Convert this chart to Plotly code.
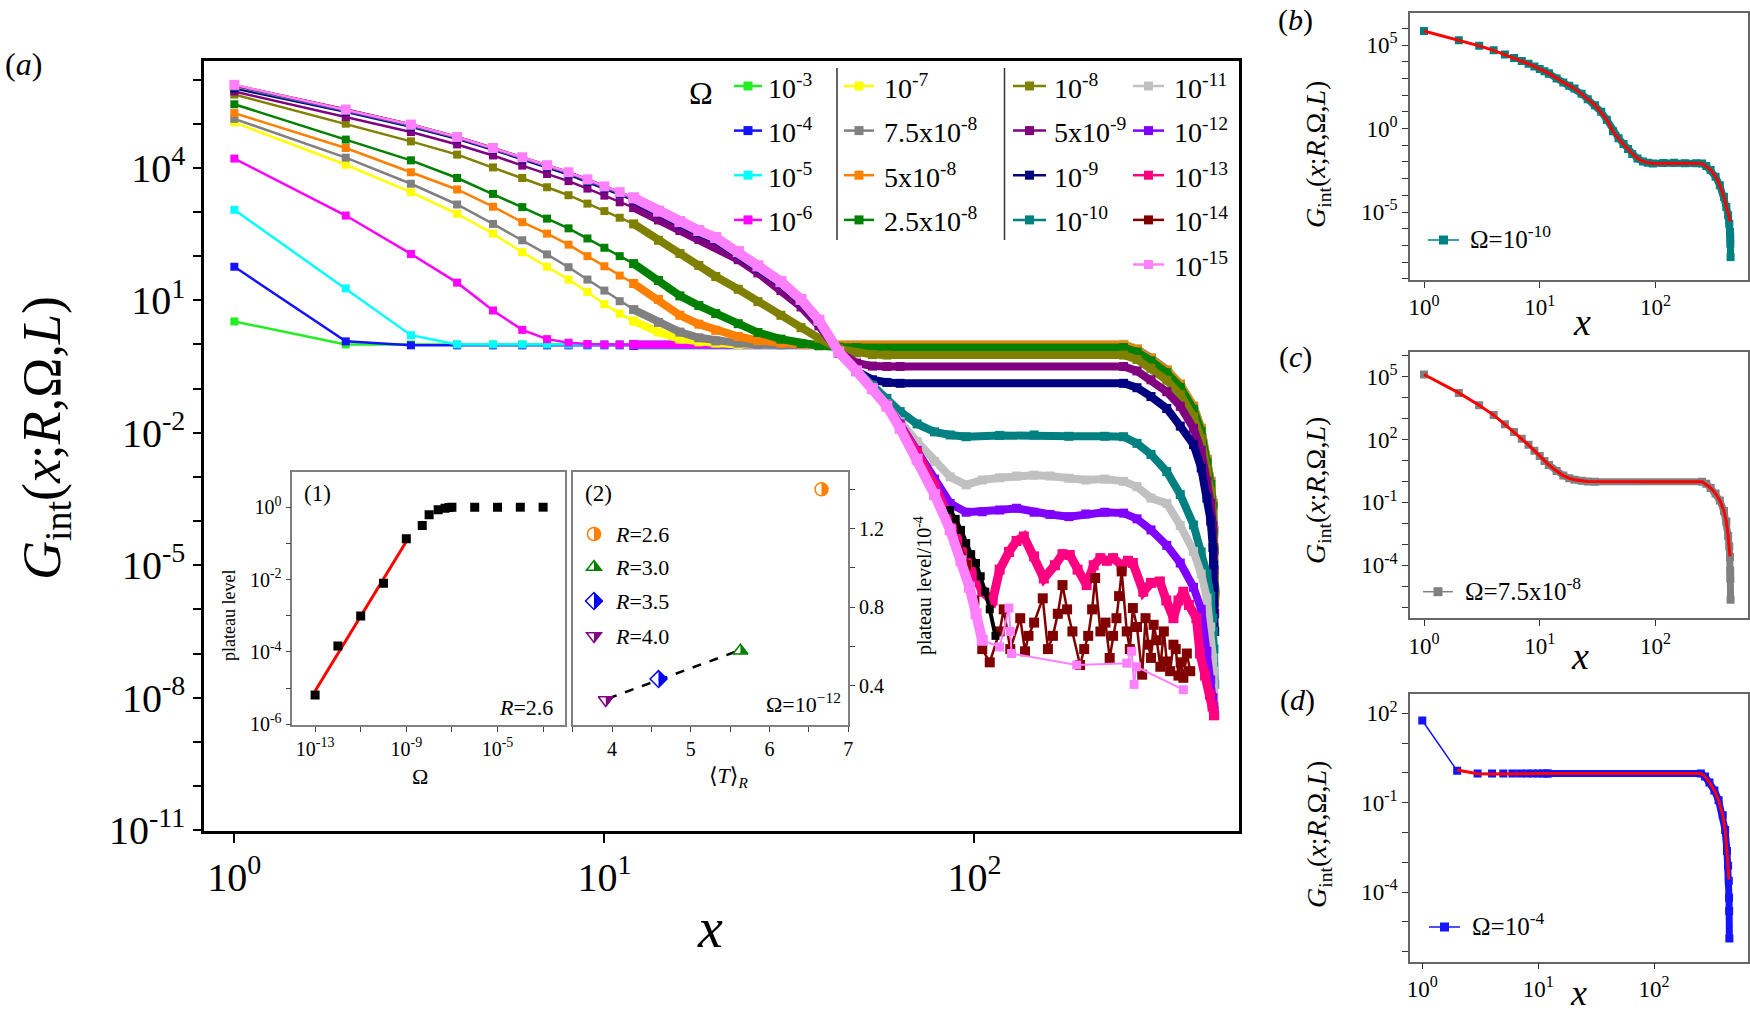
import math
import plotly.graph_objects as go

W, H = 1750, 1017
SERIF = "Liberation Serif, DejaVu Serif, serif"


def fx(p):
    return p / W


def fy(p):
    return 1 - p / H


# ------------------------------------------------------------------
# Data (values are log10 of G_int)
# ------------------------------------------------------------------
X_EARLY = [1, 2, 3, 4, 5, 6, 7, 8, 9, 10, 11, 12]

G_1E3_EARLY = [0.52, 0.0, 0.0, 0.0, 0.0, 0.0, 0.0, 0.0, 0.0, 0.0, 0.0, 0.0]
G_1E3_X = [12, 253, 275, 300, 331, 360, 391, 410, 425, 435, 441, 443, 444, 446]
G_1E3_Y = [0.0, 0.0, -0.1, -0.3, -0.57, -0.9, -1.4, -1.9, -2.6, -3.1, -3.6, -4.2, -4.6, -5.6]

G_1E4_EARLY = [1.76, 0.07, -0.02, -0.02, -0.02, -0.02, -0.02, -0.02, -0.02, -0.02, -0.02, -0.02]
G_1E4_X = [12, 253, 275, 300, 331, 360, 391, 410, 425, 435, 441, 443, 444, 446]
G_1E4_Y = [-0.02, -0.02, -0.12, -0.32, -0.59, -0.92, -1.42, -1.92, -2.62, -3.12, -3.62, -4.19, -4.64, -5.56]

G_1E5_EARLY = [3.05, 1.27, 0.21, 0.0, 0.0, 0.0, 0.0, 0.0, 0.0, 0.0, 0.0, 0.0]
G_1E5_X = [12, 253, 275, 300, 331, 360, 391, 410, 425, 435, 441, 443, 444, 446]
G_1E5_Y = [0.0, 0.0, -0.1, -0.3, -0.57, -0.9, -1.4, -1.9, -2.6, -3.1, -3.6, -4.2, -4.6, -5.6]

G_1E6_EARLY = [4.21, 2.92, 2.05, 1.40, 0.77, 0.33, 0.12, 0.04, 0.01, 0.0, 0.0, 0.0]
G_1E6_X = [12, 253, 275, 300, 331, 360, 391, 410, 425, 435, 441, 443, 444, 446]
G_1E6_Y = [0.0, 0.0, -0.1, -0.3, -0.57, -0.9, -1.4, -1.9, -2.6, -3.1, -3.6, -4.2, -4.6, -5.6]

G_1E7_EARLY = [5.03, 4.07, 3.45, 2.96, 2.51, 2.09, 1.76, 1.47, 1.19, 0.91, 0.70, 0.53]
G_1E7_X = [12, 14, 16, 18, 20, 23, 253, 275, 300, 331, 360, 391, 410, 425, 435, 441, 443, 444, 446]
G_1E7_Y = [0.53, 0.28, 0.12, 0.06, 0.03, 0.0, 0.0, -0.1, -0.3, -0.57, -0.9, -1.4, -1.9, -2.6, -3.1, -3.6, -4.2, -4.6, -5.6]

G_75E9_EARLY = [5.11, 4.23, 3.64, 3.17, 2.73, 2.36, 2.04, 1.75, 1.47, 1.22, 0.98, 0.79]
G_75E9_X = [12, 14, 16, 18, 20, 23, 26, 30, 253, 275, 300, 331, 360, 391, 410, 425, 435, 441, 443, 444, 446]
G_75E9_Y = [0.79, 0.50, 0.28, 0.15, 0.08, 0.03, 0.0, -0.01, -0.01, -0.11, -0.31, -0.58, -0.91, -1.41, -1.91, -2.61, -3.11, -3.61, -4.25, -4.65, -5.65]

G_5E8_EARLY = [5.24, 4.45, 3.90, 3.51, 3.12, 2.77, 2.51, 2.26, 2.00, 1.77, 1.56, 1.38]
G_5E8_X = [12, 14, 16, 18, 20, 23, 26, 30, 34, 38, 253, 275, 300, 331, 360, 391, 410, 425, 435, 441, 443, 444, 446]
G_5E8_Y = [1.38, 1.02, 0.66, 0.46, 0.32, 0.18, 0.09, 0.03, 0.0, -0.02, -0.02, -0.12, -0.32, -0.59, -0.92, -1.42, -1.92, -2.62, -3.12, -3.62, -4.22, -4.62, -5.62]

G_25E8_EARLY = [5.44, 4.64, 4.17, 3.77, 3.41, 3.11, 2.85, 2.63, 2.40, 2.19, 2.00, 1.83]
G_25E8_X = [12, 14, 16, 18, 20, 23, 26, 30, 34, 38, 43, 48, 253, 275, 300, 331, 360, 391, 410, 425, 435, 441, 443, 444, 446]
G_25E8_Y = [1.83, 1.45, 1.10, 0.88, 0.70, 0.47, 0.27, 0.12, 0.02, -0.03, -0.06, -0.07, -0.07, -0.17, -0.37, -0.64, -0.97, -1.47, -1.97, -2.67, -3.17, -3.67, -4.27, -4.67, -5.67]

G_1E8_EARLY = [5.66, 5.00, 4.60, 4.30, 4.01, 3.77, 3.56, 3.38, 3.19, 3.02, 2.87, 2.73]
G_1E8_X = [12, 14, 16, 18, 20, 23, 26, 30, 34, 38, 43, 48, 53, 58, 253, 275, 300, 331, 360, 391, 410, 425, 435, 441, 443, 444, 446]
G_1E8_Y = [2.73, 2.36, 2.06, 1.79, 1.54, 1.25, 0.97, 0.66, 0.38, 0.14, -0.10, -0.19, -0.23, -0.24, -0.24, -0.34, -0.54, -0.81, -1.14, -1.64, -2.14, -2.84, -3.34, -3.84, -4.44, -4.84, -5.84]

G_5E9_EARLY = [5.73, 5.15, 4.81, 4.53, 4.28, 4.05, 3.86, 3.70, 3.53, 3.37, 3.22, 3.10]
G_5E9_X = [12, 14, 16, 18, 20, 23, 26, 30, 34, 38, 43, 48, 53, 58, 63, 253, 275, 300, 331, 360, 391, 410, 425, 435, 441, 443, 444, 446]
G_5E9_Y = [3.10, 2.82, 2.58, 2.38, 2.22, 1.92, 1.62, 1.22, 0.85, 0.42, -0.17, -0.42, -0.49, -0.50, -0.50, -0.50, -0.60, -0.80, -1.07, -1.40, -1.90, -2.40, -3.10, -3.60, -4.10, -4.70, -5.10, -6.10]

G_1E9_EARLY = [5.80, 5.27, 4.93, 4.66, 4.41, 4.19, 4.01, 3.85, 3.68, 3.53, 3.40, 3.27]
G_1E9_X = [12, 14, 16, 18, 20, 23, 26, 30, 34, 38, 43, 48, 53, 58, 63, 253, 275, 300, 331, 360, 391, 410, 425, 435, 441, 443, 444, 446]
G_1E9_Y = [3.27, 2.98, 2.73, 2.53, 2.37, 2.05, 1.73, 1.37, 0.97, 0.50, -0.20, -0.60, -0.80, -0.86, -0.88, -0.88, -0.98, -1.18, -1.45, -1.85, -2.27, -2.80, -3.48, -4.00, -4.60, -5.00, -5.50, -6.50]

G_1E10_EARLY = [5.84, 5.29, 4.95, 4.68, 4.43, 4.22, 4.04, 3.88, 3.71, 3.56, 3.43, 3.30]
G_1E10_X = [12, 14, 16, 18, 20, 23, 26, 30, 34, 38, 43, 48, 53, 58, 63, 70, 78, 86, 95, 117, 145, 180, 225,
            253, 275, 300, 331, 360, 391, 410, 425, 435, 441, 443, 444, 446]
G_1E10_Y = [3.30, 3.00, 2.76, 2.56, 2.40, 2.08, 1.76, 1.40, 1.00, 0.53, -0.17, -0.58, -0.92, -1.22, -1.52, -1.80, -1.98, -2.05, -2.09, -2.06, -2.05, -2.08, -2.08,
            -2.09, -2.24, -2.49, -2.88, -3.40, -4.09, -4.70, -5.20, -5.70, -6.20, -6.50, -6.90, -7.70]

G_1E11_EARLY = [5.86, 5.31, 4.97, 4.69, 4.44, 4.23, 4.05, 3.89, 3.73, 3.57, 3.44, 3.31]
G_1E11_X = [12, 14, 16, 18, 20, 23, 26, 30, 34, 38, 43, 48, 53, 58, 63, 70, 78, 86, 95, 105, 117, 130, 145, 160, 180, 200, 225,
            253, 275, 300, 331, 360, 391, 410, 425, 435, 441, 443, 444, 446]
G_1E11_Y = [3.31, 3.01, 2.77, 2.57, 2.41, 2.09, 1.77, 1.41, 1.01, 0.54, -0.17, -0.60, -1.00, -1.35, -1.75, -2.20, -2.65, -3.00, -3.18, -3.07, -3.02, -2.98, -2.96, -2.98, -3.03, -3.07, -3.05,
            -3.10, -3.22, -3.48, -3.60, -4.10, -4.69, -5.20, -5.75, -6.40, -7.10, -7.40, -7.70, -8.20]

G_1E12_EARLY = [5.87, 5.31, 4.97, 4.69, 4.44, 4.23, 4.05, 3.89, 3.73, 3.57, 3.44, 3.31]
G_1E12_X = [12, 14, 16, 18, 20, 23, 26, 30, 34, 38, 43, 48, 53, 58, 63, 70, 78, 86, 95, 105, 117, 130, 145, 160, 180, 200, 225,
            253, 275, 300, 331, 360, 391, 410, 425, 435, 441, 443, 444, 446]
G_1E12_Y = [3.31, 3.01, 2.77, 2.57, 2.41, 2.09, 1.77, 1.41, 1.01, 0.54, -0.17, -0.60, -1.00, -1.38, -1.80, -2.40, -3.05, -3.60, -3.80, -3.79, -3.75, -3.71, -3.80, -3.85, -3.90, -3.84, -3.80,
            -3.82, -3.95, -4.20, -4.55, -4.95, -5.50, -6.00, -6.95, -7.60, -8.00, -8.20, -8.30, -8.40]

G_1E13_EARLY = [5.87, 5.32, 4.98, 4.70, 4.45, 4.24, 4.06, 3.90, 3.74, 3.58, 3.45, 3.32]
G_1E13_X = [12, 14, 16, 18, 20, 23, 26, 30, 34, 38, 43, 48, 53, 58, 63, 70, 78, 86, 95, 100,
            105, 112, 117, 124, 130, 136, 145, 154, 165, 173, 181, 190, 201, 210, 219, 228, 237, 250, 260, 268,
            286, 300, 317, 330, 345, 356, 367, 380, 398, 407, 420, 433, 440, 444]
G_1E13_Y = [3.32, 3.02, 2.78, 2.58, 2.42, 2.10, 1.78, 1.42, 1.02, 0.55, -0.17, -0.60, -1.00, -1.38, -1.85, -2.45, -3.20, -4.00, -4.90, -5.30,
            -5.60, -5.80, -5.10, -4.70, -4.45, -4.35, -4.80, -5.30, -5.00, -4.75, -4.77, -5.10, -5.45, -5.00, -4.84, -4.90, -4.84, -5.00, -4.90, -4.95,
            -5.60, -5.40, -5.37, -5.80, -6.20, -5.80, -5.60, -5.90, -6.20, -7.00, -7.50, -7.93, -8.20, -8.40]

G_1E14_EARLY = [5.87, 5.32, 4.98, 4.70, 4.45, 4.24, 4.06, 3.90, 3.74, 3.58, 3.45, 3.32]
G_1E14_X = [12, 14, 16, 18, 20, 23, 26, 30, 34, 38, 43, 48, 53, 58, 63, 70, 78, 86, 95]
G_1E14_Y = [3.32, 3.02, 2.78, 2.58, 2.42, 2.10, 1.78, 1.42, 1.02, 0.55, -0.17, -0.60, -1.00, -1.40, -1.90, -2.60, -3.40, -4.20, -5.00]
G_1E14_NX = [95, 100, 105, 110, 117, 120, 125, 133, 137, 140, 145, 153, 158, 163, 168, 173, 178, 184, 193, 198,
             203, 208, 212, 219, 226, 232, 237, 242, 246, 250, 258, 263, 268, 275, 284, 290, 295, 300, 305, 311,
             318, 325, 331, 338, 345, 350, 356, 361, 367, 375, 383]
G_1E14_NY = [-5.00, -5.80, -6.90, -7.20, -6.50, -6.00, -6.90, -6.20, -6.95, -6.60, -6.30, -5.75, -6.90, -6.60, -6.10, -5.45, -6.00, -6.50, -7.26, -6.90,
             -6.60, -6.00, -5.29, -6.50, -6.30, -7.10, -6.60, -6.20, -5.70, -5.14, -6.50, -6.90, -5.97, -6.40, -7.48, -6.20, -6.80, -7.10, -6.35, -6.70,
             -7.30, -6.50, -7.18, -7.40, -6.80, -6.90, -7.50, -7.20, -7.55, -7.00, -7.40]

G_1E15_EARLY = [5.88, 5.32, 4.98, 4.70, 4.45, 4.24, 4.06, 3.90, 3.74, 3.58, 3.45, 3.32]
G_1E15_X = [12, 14, 16, 18, 20, 23, 26, 30, 34, 38, 43, 48, 53, 58, 63, 70, 78, 86, 92, 97, 101, 105]
G_1E15_Y = [3.32, 3.02, 2.78, 2.58, 2.42, 2.10, 1.78, 1.42, 1.02, 0.55, -0.17, -0.60, -1.00, -1.40, -1.90, -2.60, -3.40, -4.20, -4.90, -5.50, -6.10, -6.70]
G_1E15_TX = [105, 117, 124, 125, 126, 189, 258, 266, 270, 274, 367]
G_1E15_TY = [-6.70, -6.85, -5.97, -6.50, -7.00, -7.26, -7.22, -6.95, -7.70, -7.30, -7.82]

BLACK_X = [86, 89, 92, 95, 98, 101, 104, 107, 110, 114]
BLACK_Y = [-3.75, -3.95, -4.20, -4.50, -4.75, -4.95, -5.25, -5.60, -6.00, -6.60]

LEGEND_LABELS = ["10<sup>-3</sup>", "10<sup>-4</sup>", "10<sup>-5</sup>", "10<sup>-6</sup>",
                 "10<sup>-7</sup>", "7.5x10<sup>-8</sup>", "5x10<sup>-8</sup>", "2.5x10<sup>-8</sup>",
                 "10<sup>-8</sup>", "5x10<sup>-9</sup>", "10<sup>-9</sup>", "10<sup>-10</sup>",
                 "10<sup>-11</sup>", "10<sup>-12</sup>", "10<sup>-13</sup>", "10<sup>-14</sup>", "10<sup>-15</sup>"]
COLORS = ["#22ee22", "#1414ff", "#00ffff", "#ff00ff", "#ffff00", "#808080", "#ff8000", "#008000",
          "#808000", "#800080", "#000080", "#008080", "#c0c0c0", "#8000ff", "#ff0080", "#800000", "#ff80ff"]

# inset (1): plateau level vs Omega (R = 2.6)
OMEGA = [1e-13, 1e-12, 1e-11, 1e-10, 1e-9, 5e-9, 1e-8, 2.5e-8, 5e-8, 7.5e-8, 1e-7, 1e-6, 1e-5, 1e-4, 1e-3]
PLATEAU_LOG = [-5.19, -3.84, -3.01, -2.10, -0.87, -0.51, -0.21, -0.07, -0.03, -0.01, 0.0, 0.0, 0.0, 0.0, 0.0]
FIT1_OMEGA = [1e-13, 1e-9]
FIT1_LOG = [-5.08, -0.95]

# inset (2): plateau level (units of 1e-4) vs <T>_R at Omega = 1e-12
R_LABELS = ["<i>R</i>=2.6", "<i>R</i>=3.0", "<i>R</i>=3.5", "<i>R</i>=4.0"]
T_MEAN = [6.66, 5.63, 4.59, 3.92]
PLATEAU_E4 = [1.40, 0.578, 0.434, 0.327]
R_COLORS = ["#ff8000", "#008000", "#0000ff", "#800080"]
FIT2_T = [3.95, 5.65]
FIT2_P = [0.335, 0.585]

# red fit curves of panels (b), (c), (d)
FITB_X = [1, 2, 3, 4, 6, 8, 12, 16, 20, 26, 30, 38, 43, 50, 58, 65, 72, 80, 95, 130, 180, 253, 300, 331, 360, 391, 425, 441, 444]
FITB_Y = [5.84, 5.29, 4.95, 4.68, 4.22, 3.88, 3.30, 2.76, 2.40, 1.76, 1.40, 0.53, -0.17, -0.75, -1.22, -1.60, -1.85, -2.00, -2.09, -2.07, -2.08, -2.09, -2.49, -2.88, -3.40, -4.09, -5.10, -5.50, -5.58]
FITC_X = [1, 2, 3, 4, 5, 6, 8, 10, 12, 14, 16, 18, 20, 26, 40, 100, 253, 300, 331, 360, 391, 410, 425, 435, 441]
FITC_Y = [5.11, 4.23, 3.64, 3.17, 2.73, 2.36, 1.75, 1.22, 0.79, 0.50, 0.28, 0.15, 0.08, 0.00, -0.01, -0.01, -0.01, -0.31, -0.58, -0.91, -1.41, -1.91, -2.61, -3.11, -3.58]
FITD_X = [2, 3, 4, 6, 10, 30, 100, 253, 275, 300, 331, 360, 391, 410, 425, 435, 441]
FITD_Y = [0.10, -0.03, -0.04, -0.03, -0.02, -0.02, -0.02, -0.02, -0.12, -0.32, -0.59, -0.92, -1.42, -1.92, -2.62, -3.12, -3.58]


def pw(vals):
    return [10.0 ** v for v in vals]


fig = go.Figure()


def add_band(x, y, color, width, xa="x", ya="y"):
    fig.add_trace(go.Scatter(x=x, y=pw(y), mode="lines+markers", line=dict(color=color, width=width),
                             marker=dict(symbol="square", size=width + 1, color=color),
                             xaxis=xa, yaxis=ya, hoverinfo="skip", showlegend=False))


def add_pts(x, y, color, lw, ms, xa="x", ya="y"):
    fig.add_trace(go.Scatter(x=x, y=pw(y), mode="lines+markers", line=dict(color=color, width=lw),
                             marker=dict(symbol="square", size=ms, color=color),
                             xaxis=xa, yaxis=ya, showlegend=False))


MAIN = [
    (G_1E3_EARLY, G_1E3_X, G_1E3_Y), (G_1E4_EARLY, G_1E4_X, G_1E4_Y),
    (G_1E5_EARLY, G_1E5_X, G_1E5_Y), (G_1E6_EARLY, G_1E6_X, G_1E6_Y),
    (G_1E7_EARLY, G_1E7_X, G_1E7_Y), (G_75E9_EARLY, G_75E9_X, G_75E9_Y),
    (G_5E8_EARLY, G_5E8_X, G_5E8_Y), (G_25E8_EARLY, G_25E8_X, G_25E8_Y),
    (G_1E8_EARLY, G_1E8_X, G_1E8_Y), (G_5E9_EARLY, G_5E9_X, G_5E9_Y),
    (G_1E9_EARLY, G_1E9_X, G_1E9_Y), (G_1E10_EARLY, G_1E10_X, G_1E10_Y),
    (G_1E11_EARLY, G_1E11_X, G_1E11_Y), (G_1E12_EARLY, G_1E12_X, G_1E12_Y),
    (G_1E13_EARLY, G_1E13_X, G_1E13_Y), (G_1E14_EARLY, G_1E14_X, G_1E14_Y),
    (G_1E15_EARLY, G_1E15_X, G_1E15_Y),
]

for i, (early, bx, by) in enumerate(MAIN):
    c = COLORS[i]
    if i == 16:
        add_pts(BLACK_X, BLACK_Y, "#000000", 4, 8)
        add_band(bx, by, c, 10)
        add_pts(G_1E15_TX, G_1E15_TY, c, 2, 9)
        add_pts(X_EARLY, early, c, 2.5, 10)
    elif i == 15:
        add_band(bx, by, c, 8)
        add_pts(G_1E14_NX, G_1E14_NY, c, 2.5, 10)
        add_pts(X_EARLY, early, c, 2.5, 8)
    else:
        add_band(bx, by, c, 9 if i == 14 else 8)
        add_pts(X_EARLY, early, c, 2.5, 8)

# inset (1)
fig.add_trace(go.Scatter(x=FIT1_OMEGA, y=pw(FIT1_LOG), mode="lines", line=dict(color="#ff0000", width=3),
                         xaxis="x2", yaxis="y2", showlegend=False))
fig.add_trace(go.Scatter(x=OMEGA, y=pw(PLATEAU_LOG), mode="markers",
                         marker=dict(symbol="square", size=9, color="black"),
                         xaxis="x2", yaxis="y2", showlegend=False))

# inset (2)
fig.add_trace(go.Scatter(x=FIT2_T, y=FIT2_P, mode="lines", line=dict(color="black", width=2.5, dash="dash"),
                         xaxis="x3", yaxis="y3", showlegend=False))
OPEN_SYMBOLS = ["circle-open", "triangle-up-open", "diamond-open", "triangle-down-open"]
for k in range(4):
    fig.add_trace(go.Scatter(x=[T_MEAN[k]], y=[PLATEAU_E4[k]], mode="markers",
                             marker=dict(symbol=OPEN_SYMBOLS[k], size=13, color=R_COLORS[k],
                                         line=dict(width=1.5, color=R_COLORS[k])),
                             xaxis="x3", yaxis="y3", showlegend=False))

# panels (b), (c), (d)
add_band(G_1E10_X, G_1E10_Y, COLORS[11], 7, "x4", "y4")
add_pts(X_EARLY, G_1E10_EARLY, COLORS[11], 1.5, 8, "x4", "y4")
fig.add_trace(go.Scatter(x=FITB_X, y=pw(FITB_Y), mode="lines", line=dict(color="#ff0000", width=3),
                         xaxis="x4", yaxis="y4", showlegend=False))
add_band(G_75E9_X, G_75E9_Y, COLORS[5], 7, "x5", "y5")
add_pts(X_EARLY, G_75E9_EARLY, COLORS[5], 1.5, 8, "x5", "y5")
fig.add_trace(go.Scatter(x=FITC_X, y=pw(FITC_Y), mode="lines", line=dict(color="#ff0000", width=3),
                         xaxis="x5", yaxis="y5", showlegend=False))
add_band(G_1E4_X, G_1E4_Y, COLORS[1], 7, "x6", "y6")
add_pts(X_EARLY, G_1E4_EARLY, COLORS[1], 1.5, 8, "x6", "y6")
fig.add_trace(go.Scatter(x=FITD_X, y=pw(FITD_Y), mode="lines", line=dict(color="#ff0000", width=3),
                         xaxis="x6", yaxis="y6", showlegend=False))


# ------------------------------------------------------------------
# axes
# ------------------------------------------------------------------
def log_ticks(lo, hi, labeled):
    major = [10.0 ** k for k in labeled]
    txt = ["10<sup>%d</sup>" % k for k in labeled]
    minor = [10.0 ** k for k in range(lo, hi + 1) if k not in labeled]
    return major, txt, minor


def ax(major, txt, minor, lcolor, lwidth, tlen, twidth, tcolor, fsize, **kw):
    base = dict(showgrid=False, zeroline=False, showline=True, mirror=True, ticks="outside",
                linecolor=lcolor, linewidth=lwidth, ticklen=tlen, tickwidth=twidth, tickcolor=tcolor,
                tickvals=major, ticktext=txt,
                tickfont=dict(family=SERIF, size=fsize, color="black"))
    if minor:
        base["minor"] = dict(tickvals=minor, ticks="outside", ticklen=tlen, tickwidth=twidth,
                             tickcolor=tcolor, showgrid=False)
    base.update(kw)
    return base


ym, yt, yn = log_ticks(-11, 6, [4, 1, -2, -5, -8, -11])
layout_axes = dict(
    xaxis=ax([1, 10, 100], ["10<sup>0</sup>", "10<sup>1</sup>", "10<sup>2</sup>"], None,
             "black", 2.5, 9, 2, "black", 40,
             domain=[fx(204), fx(1239)], type="log", range=[-0.082, 2.715], anchor="y"),
    yaxis=ax(ym, yt, yn, "black", 2.5, 8, 2, "black", 40,
             domain=[fy(831), fy(61)], type="log", range=[-11.02, 6.42], anchor="x"),
)

xm2, xt2, _ = log_ticks(-13, -3, [-13, -9, -5])
xn2 = [1e-11, 1e-7, 1e-3]
ym2, yt2, yn2 = log_ticks(-6, 0, [-6, -4, -2, 0])
layout_axes.update(
    xaxis2=ax(xm2, xt2, xn2, "#808080", 1.5, 5, 1, "#444", 20,
              domain=[fx(292.3), fx(565)], type="log", range=[-14, -2.04], anchor="y2"),
    yaxis2=ax(ym2, yt2, yn2, "#808080", 1.5, 5, 1, "#444", 20,
              domain=[fy(725), fy(471.7)], type="log", range=[-6.02, 0.98], anchor="x2"),
    xaxis3=ax([4, 5, 6, 7], ["4", "5", "6", "7"], [3.5, 4.5, 5.5, 6.5], "#808080", 1.5, 5, 1, "#444", 20,
              domain=[fx(572.7), fx(848.3)], range=[3.5, 7], anchor="y3"),
    yaxis3=ax([0.4, 0.8, 1.2], ["0.4", "0.8", "1.2"], [0.6, 1.0, 1.4], "#808080", 1.5, 5, 1, "#444", 20,
              domain=[fy(725), fy(471.7)], range=[0.2, 1.49], anchor="x3", side="right"),
)

PXM = [1, 10, 100]
PXT = ["10<sup>0</sup>", "10<sup>1</sup>", "10<sup>2</sup>"]
ybm, ybt, ybn = log_ticks(-9, 6, [-5, 0, 5])
ycm, yct, ycn = log_ticks(-6, 6, [-4, -1, 2, 5])
ydm, ydt, ydn = log_ticks(-6, 2, [-4, -1, 2])
P = ("#666", 1.5, 6, 1, "#333", 23)
layout_axes.update(
    xaxis4=ax(PXM, PXT, None, *P, domain=[fx(1410), fx(1748)], type="log", range=[-0.121, 2.80], anchor="y4"),
    yaxis4=ax(ybm, ybt, ybn, *P, domain=[fy(280), fy(13.3)], type="log", range=[-9.07, 6.9], anchor="x4"),
    xaxis5=ax(PXM, PXT, None, *P, domain=[fx(1410), fx(1748)], type="log", range=[-0.121, 2.80], anchor="y5"),
    yaxis5=ax(ycm, yct, ycn, *P, domain=[fy(618.3), fy(351.7)], type="log", range=[-6.54, 6.2], anchor="x5"),
    xaxis6=ax(PXM, PXT, None, *P, domain=[fx(1410), fx(1748)], type="log", range=[-0.106, 2.81], anchor="y6"),
    yaxis6=ax(ydm, ydt, ydn, *P, domain=[fy(961.7), fy(694)], type="log", range=[-6.34, 2.65], anchor="x6"),
)

# ------------------------------------------------------------------
# shapes and annotations (legends, labels)
# ------------------------------------------------------------------
shapes = []
annotations = []


def text(x, y, s, size, xanchor="left", yanchor="middle", angle=0):
    annotations.append(dict(x=fx(x), y=fy(y), xref="paper", yref="paper", text=s, showarrow=False,
                            font=dict(family=SERIF, size=size, color="black"),
                            xanchor=xanchor, yanchor=yanchor, textangle=angle))


def sample(x0, x1, y, color, ms=9, lw=2.5):
    shapes.append(dict(type="line", xref="paper", yref="paper", x0=fx(x0), x1=fx(x1), y0=fy(y), y1=fy(y),
                       line=dict(color=color, width=lw)))
    cx = (x0 + x1) / 2
    h = ms / 2
    shapes.append(dict(type="rect", xref="paper", yref="paper", x0=fx(cx - h), x1=fx(cx + h),
                       y0=fy(y + h), y1=fy(y - h), fillcolor=color, line=dict(width=0)))


# main legend
ROWS = [86, 130.6, 175.2, 219.9, 264.5]
COLS = [(734, 762, 766), (844, 874, 882), (1013, 1046, 1052), (1133, 1164, 1172)]
GROUPS = [[0, 1, 2, 3], [4, 5, 6, 7], [8, 9, 10, 11], [12, 13, 14, 15, 16]]
for (x0, x1, xt), idxs in zip(COLS, GROUPS):
    for r, i in enumerate(idxs):
        sample(x0, x1, ROWS[r], COLORS[i])
        text(xt, ROWS[r], LEGEND_LABELS[i], 28)
text(701, 93, "Ω", 32, xanchor="center")
for xs in (837, 1004.5):
    shapes.append(dict(type="line", xref="paper", yref="paper", x0=fx(xs), x1=fx(xs), y0=fy(68), y1=fy(240),
                       line=dict(color="#333", width=1.5)))

# panel legends
sample(1428, 1459, 240, COLORS[11], ms=9, lw=1.5)
text(1468, 237, "Ω=10<sup>-10</sup>", 25)
sample(1423, 1453, 591.7, COLORS[5], ms=9, lw=1.5)
text(1463, 589, "Ω=7.5x10<sup>-8</sup>", 25)
sample(1429, 1460, 927, COLORS[1], ms=9, lw=1.5)
text(1470, 924, "Ω=10<sup>-4</sup>", 25)

# half-filled glyphs for inset (2)
r = 6.5
rt = r * 2 / math.sqrt(3)
rd = r * 1.3


def poly(pts):
    return "M " + " L ".join("%.2f,%.2f" % p for p in pts) + " Z"


FULL = [
    [(r * math.cos(math.radians(a)), r * math.sin(math.radians(a))) for a in range(0, 360, 15)],
    [(0, r), (rt, -r / 2), (-rt, -r / 2)],
    [(rd, 0), (0, rd), (-rd, 0), (0, -rd)],
    [(0, -r), (rt, r / 2), (-rt, r / 2)],
]
RIGHT = [
    [(r * math.cos(math.radians(a)), r * math.sin(math.radians(a))) for a in range(90, -91, -15)],
    [(0, r), (rt, -r / 2), (0, -r / 2)],
    [(0, rd), (rd, 0), (0, -rd)],
    [(0, -r), (rt, r / 2), (0, r / 2)],
]
for k in range(4):
    shapes.append(dict(type="path", xref="x3", yref="y3", xsizemode="pixel", ysizemode="pixel",
                       xanchor=T_MEAN[k], yanchor=PLATEAU_E4[k], path=poly(RIGHT[k]),
                       fillcolor=R_COLORS[k], line=dict(width=0)))

LEG2_ROWS = [534, 567, 601, 636]
for k in range(4):
    shapes.append(dict(type="path", xref="paper", yref="paper", xsizemode="pixel", ysizemode="pixel",
                       xanchor=fx(594), yanchor=fy(LEG2_ROWS[k]), path=poly(FULL[k]),
                       fillcolor="white", line=dict(width=1.5, color=R_COLORS[k])))
    shapes.append(dict(type="path", xref="paper", yref="paper", xsizemode="pixel", ysizemode="pixel",
                       xanchor=fx(594), yanchor=fy(LEG2_ROWS[k]), path=poly(RIGHT[k]),
                       fillcolor=R_COLORS[k], line=dict(width=0)))
    text(613, LEG2_ROWS[k], R_LABELS[k], 22)

# labels
text(23, 64, "(<i>a</i>)", 32, xanchor="center")
text(1295, 20, "(<i>b</i>)", 30, xanchor="center")
text(1295, 357, "(<i>c</i>)", 30, xanchor="center")
text(1297, 700, "(<i>d</i>)", 30, xanchor="center")

GTITLE = "<i>G</i><sub>int</sub>(<i>x</i>;<i>R</i>,Ω,<i>L</i>)"
text(45, 438, GTITLE, 54, xanchor="center", angle=-90)
text(710, 928, "<i>x</i>", 56, xanchor="center")
text(1318, 155, GTITLE, 28, xanchor="center", angle=-90)
text(1318, 491, GTITLE, 28, xanchor="center", angle=-90)
text(1318, 835, GTITLE, 28, xanchor="center", angle=-90)
text(1582, 322, "<i>x</i>", 38, xanchor="center")
text(1580, 656, "<i>x</i>", 38, xanchor="center")
text(1578, 993, "<i>x</i>", 36, xanchor="center")

text(317, 493, "(1)", 23, xanchor="center")
text(555, 707, "<i>R</i>=2.6", 22, xanchor="right")
text(229, 616, "plateau level", 18, xanchor="center", angle=-90)
text(420, 776, "Ω", 22, xanchor="center")
text(598, 493, "(2)", 23, xanchor="center")
text(843, 703, "Ω=10<sup>−12</sup>", 22, xanchor="right")
text(728, 777, "⟨<i>T</i>⟩<sub><i>R</i></sub>", 22, xanchor="center")
text(923, 586, "plateau level/10<sup>-4</sup>", 20, xanchor="center", angle=-90)

fig.update_layout(
    width=W, height=H, margin=dict(l=0, r=0, t=0, b=0),
    paper_bgcolor="white", plot_bgcolor="white", template="none",
    showlegend=False, font=dict(family=SERIF, color="black"),
    shapes=shapes, annotations=annotations, **layout_axes,
)

fig.write_html("out.html")
